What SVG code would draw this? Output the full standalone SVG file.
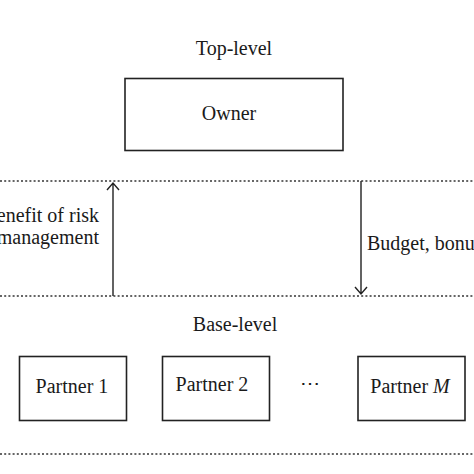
<svg xmlns="http://www.w3.org/2000/svg" width="474" height="474" viewBox="0 0 474 474">
<style>
text{font-family:"Liberation Serif","Times New Roman",serif;fill:#1a1a1a;font-size:20px}
.box{fill:#fff;stroke:#222;stroke-width:1.6}
.dot{stroke:#333;stroke-width:1.5;stroke-dasharray:2 2.2}
.arr{stroke:#222;stroke-width:1.4;fill:none}
</style>
<rect width="474" height="474" fill="#fff"/>
<g id="levels">
<line class="dot" x1="0" y1="181" x2="474" y2="181"/>
<line class="dot" x1="0" y1="296" x2="474" y2="296"/>
<line class="dot" x1="0" y1="454" x2="474" y2="454"/>
<text x="234" y="55" text-anchor="middle" font-size="19">Top-level</text>
<text x="235" y="331" text-anchor="middle" font-size="19">Base-level</text>
</g>
<g id="owner">
<rect class="box" x="125" y="78.5" width="218" height="72"/>
<text x="229" y="120" text-anchor="middle">Owner</text>
</g>
<g id="partner1">
<rect class="box" x="19.5" y="356.5" width="107" height="64"/>
<text x="72" y="393" text-anchor="middle">Partner 1</text>
</g>
<g id="partner2">
<rect class="box" x="162.5" y="356.5" width="107" height="64"/>
<text x="212" y="391" text-anchor="middle">Partner 2</text>
</g>
<g id="ellipsis">
<text x="310" y="390" text-anchor="middle">⋯</text>
</g>
<g id="partnerM">
<rect class="box" x="358" y="356.5" width="107" height="64"/>
<text x="410" y="393" text-anchor="middle">Partner <tspan font-style="italic">M</tspan></text>
</g>
<g id="connectors">
<path class="arr" d="M113 296 V183 M107 190 L113 183 L119 190"/>
<path class="arr" d="M361 181 V294 M355 287 L361 294 L367 287"/>
<text x="99" y="222" text-anchor="end">Benefit of risk</text>
<text x="99" y="244" text-anchor="end">management</text>
<text x="367" y="250">Budget, bonus</text>
</g>
</svg>
